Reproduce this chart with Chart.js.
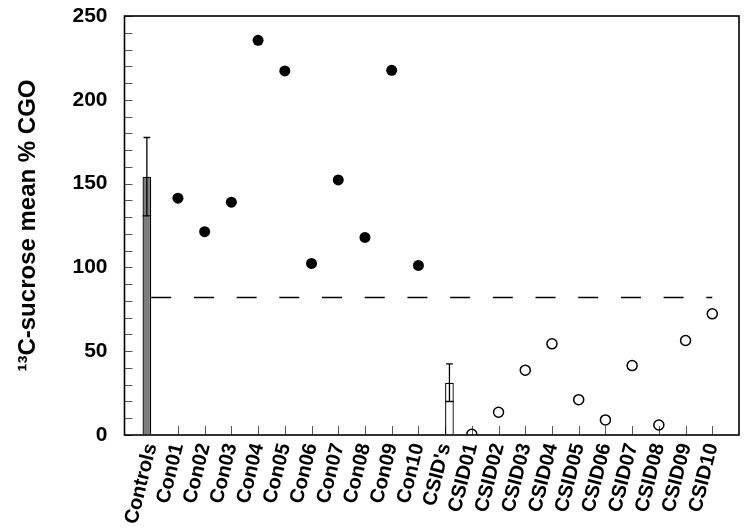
<!DOCTYPE html>
<html>
<head>
<meta charset="utf-8">
<script src="https://cdn.jsdelivr.net/npm/chart.js@4"></script>
<style>
html,body{margin:0;padding:0;background:#fff;}
#wrap{width:750px;height:531px;}
</style>
</head>
<body>
<div id="wrap"><canvas id="c" width="750" height="531"></canvas></div>
<script>
// ---- data ----
const categories = ['Controls','Con01','Con02','Con03','Con04','Con05','Con06','Con07','Con08','Con09','Con10',
  "CSID's",'CSID01','CSID02','CSID03','CSID04','CSID05','CSID06','CSID07','CSID08','CSID09','CSID10'];
const controlNames = ['Con01','Con02','Con03','Con04','Con05','Con06','Con07','Con08','Con09','Con10'];
const controlValues = [141.3,121.3,138.9,235.5,217.2,102.4,152.2,117.9,217.6,101.2];
const csidNames = ['CSID01','CSID02','CSID03','CSID04','CSID05','CSID06','CSID07','CSID08','CSID09','CSID10'];
const csidValues = [0.4,13.6,38.7,54.4,21.1,9.0,41.4,6.0,56.4,72.3];
const groupNames = ['Controls',"CSID's"];
const groupMeans = [154.1,31.2];
const groupSD = [23.4,11.2];
const cutoffValue = 82;
const yTickLabels = [0,50,100,150,200,250];

// ---- build ----
const labels = [null].concat(categories).concat([null]);
function series(names, vals){
  return labels.map(l => { const i = names.indexOf(l); return i >= 0 ? vals[i] : null; });
}
const controlsBar = series([groupNames[0]],[groupMeans[0]]);
const csidBar = series([groupNames[1]],[groupMeans[1]]);
const cutoffLine = labels.map(l => l == null ? null : cutoffValue);

const FONT = "'Liberation Sans', Arial, sans-serif";

const decorPlugin = {
  id: 'decor',
  beforeDatasetsDraw(chart){
    const ctx = chart.ctx, a = chart.chartArea;
    const xs = chart.scales.x, ys = chart.scales.y;
    ctx.save();
    ctx.strokeStyle = '#555';
    ctx.lineWidth = 1;
    ys.ticks.forEach((t,i) => {
      const y = Math.round(ys.getPixelForTick(i)) + 0.5;
      ctx.beginPath(); ctx.moveTo(a.left, y); ctx.lineTo(a.left + 8, y); ctx.stroke();
    });
    xs.ticks.forEach((t,i) => {
      if (labels[i] == null) return;
      const x = Math.round(xs.getPixelForTick(i)) + 0.5;
      ctx.beginPath(); ctx.moveTo(x, a.bottom); ctx.lineTo(x, a.bottom - 9); ctx.stroke();
    });
    ctx.restore();
  },
  afterDatasetsDraw(chart){
    const ctx = chart.ctx, a = chart.chartArea, ys = chart.scales.y;
    ctx.save();
    ctx.strokeStyle = '#000';
    ctx.lineWidth = 1.3;
    [0,1].forEach(ds => {
      const meta = chart.getDatasetMeta(ds);
      meta.data.forEach((bar, i) => {
        const d = chart.data.datasets[ds].data[i];
        if (d == null) return;
        const sd = groupSD[ds];
        const x = bar.x;
        const yTop = ys.getPixelForValue(d + sd), yBot = ys.getPixelForValue(d - sd);
        const hw = bar.width/2;
        ctx.beginPath();
        ctx.moveTo(x, yTop); ctx.lineTo(x, yBot);
        ctx.moveTo(x - hw + 1, yTop); ctx.lineTo(x + hw - 1, yTop);
        ctx.moveTo(x - hw, yBot); ctx.lineTo(x + hw, yBot);
        ctx.stroke();
      });
    });
    ctx.lineWidth = 1.6;
    ctx.strokeRect(a.left, a.top, a.right - a.left, a.bottom - a.top);
    ctx.restore();
  }
};

new Chart(document.getElementById('c'), {
  data: {
    labels: labels,
    datasets: [
      { type:'bar', data: controlsBar, backgroundColor:'#7d7d7d', borderColor:'#000', borderWidth:1.3,
        categoryPercentage:0.65, barPercentage:1, order:3 },
      { type:'bar', data: csidBar, backgroundColor:'#ffffff', borderColor:'#000', borderWidth:1.3,
        categoryPercentage:0.65, barPercentage:1, order:3 },
      { type:'line', data: cutoffLine, borderColor:'#000', borderWidth:1.5, borderDash:[20,22.7],
        pointRadius:0, fill:false, order:2 },
      { type:'line', data: series(controlNames, controlValues), showLine:false, pointRadius:5.5,
        pointBackgroundColor:'#000', pointBorderColor:'#000', pointBorderWidth:0, order:1 },
      { type:'line', data: series(csidNames, csidValues), showLine:false, pointRadius:5,
        pointBackgroundColor:'rgba(0,0,0,0)', pointBorderColor:'#000', pointBorderWidth:1.5, order:1 }
    ]
  },
  options: {
    responsive:false,
    animation:false,
    layout:{ padding:{ top:16, right:11, left:0, bottom:0 } },
    plugins:{ legend:{display:false}, tooltip:{enabled:false} },
    scales:{
      x:{
        type:'category', offset:false,
        grid:{ display:false, drawTicks:false },
        border:{ display:false },
        ticks:{ autoSkip:false, maxRotation:76, minRotation:76, padding:6, color:'#000',
          font:{ family:FONT, size:20, weight:'bold' } },
        afterFit(s){ s.height = 96; }
      },
      y:{
        min:0, max:250,
        grid:{ display:true, drawOnChartArea:false, drawTicks:true, tickLength:17, tickColor:'rgba(0,0,0,0)' },
        border:{ display:false },
        ticks:{ stepSize:10, autoSkip:false, padding:0, color:'#000',
          font:{ family:FONT, size:21, weight:'bold' },
          callback:(v) => yTickLabels.includes(v) ? String(v) : '' },
        title:{ display:true, text:'¹³C-sucrose mean % CGO', color:'#000',
          font:{ family:FONT, size:24, weight:'bold' }, padding:{top:14,bottom:0} },
        afterFit(s){ s.width = 124.5; }
      }
    }
  },
  plugins:[decorPlugin]
});
</script>
</body>
</html>
